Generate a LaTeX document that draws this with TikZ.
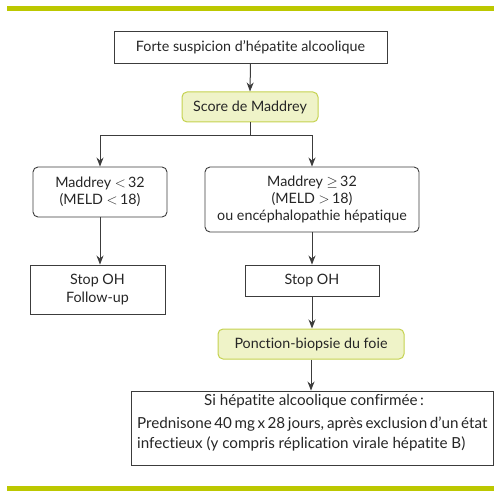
\documentclass[tikz,border=0pt]{standalone}
\usepackage{fontspec}
\setmainfont[Ligatures={NoCommon}]{Lato}
\usetikzlibrary{arrows.meta}
\definecolor{barg}{RGB}{188,200,0}
\definecolor{scfill}{RGB}{239,243,200}
\definecolor{scdraw}{RGB}{197,210,80}
\definecolor{ln}{RGB}{60,60,60}
\begin{document}
\begin{tikzpicture}[x=1pt,y=-1pt,
  every node/.style={font=\fontsize{14.3}{17.2}\selectfont, text=black!85, inner sep=0pt, align=center},
  sq/.style={draw=ln, line width=0.9pt, fill=white},
  rd/.style={draw=ln, line width=0.9pt, rounded corners=5pt, fill=white},
  gr/.style={draw=scdraw, line width=1pt, rounded corners=5pt, fill=scfill},
  arr/.style={draw=ln, line width=1pt, -{Stealth[length=9pt,width=7pt]}}]
\useasboundingbox (0,0) rectangle (500,497);
\fill[barg] (7,6) rectangle (494,11);
\fill[barg] (7,486) rectangle (494,491);
\node[sq, minimum width=273pt, minimum height=32pt] (b1) at (250.5,47) {Forte suspicion d’hépatite alcoolique};
\node[gr, minimum width=136pt, minimum height=30pt] (sc) at (250,107) {Score de Maddrey};
\node[rd, minimum width=134pt, minimum height=50pt] (m1) at (100,192) {Maddrey $<$\,32\\(MELD $<$\,18)};
\node[rd, minimum width=214pt, minimum height=65pt] (m2) at (312,199.5) {Maddrey $\geq$\,32\\(MELD $>$\,18)\\ou encéphalopathie hépatique};
\node[sq, minimum width=135pt, minimum height=49pt] (s1) at (97.5,289.5) {Stop OH\\Follow-up};
\node[sq, minimum width=134pt, minimum height=31pt] (s2) at (312,280.5) {Stop OH};
\node[gr, minimum width=186pt, minimum height=30pt] (p) at (311,344) {Ponction-biopsie du foie};
\node[sq, minimum width=362pt, minimum height=74pt] (f) at (312,428) {};
\node[font=\fontsize{15.2}{20}\selectfont] (ft) at (314,401) {Si hépatite alcoolique confirmée\,:};
\node[anchor=north west, align=left, font=\fontsize{15.2}{20}\selectfont] (fb) at (137,417) {\makebox[350pt][s]{Prednisone 40 mg\,x\,28 jours, après exclusion d’un état}\\infectieux (y compris réplication virale hépatite B)};
\coordinate (j) at (250,136);
\draw[arr] (b1.south) -- (sc.north);
\draw[line width=1pt, draw=ln] (sc.south) -- (j);
\draw[arr] (j) -| (m1.north);
\draw[arr] (j) -| (m2.north);
\draw[arr] (m1.south) -- (m1.south |- s1.north);
\draw[arr] (m2.south) -- (s2.north);
\draw[arr] (s2.south) -- (s2.south |- p.north);
\draw[arr] (p.south) -- (p.south |- f.north);
\end{tikzpicture}
\end{document}
